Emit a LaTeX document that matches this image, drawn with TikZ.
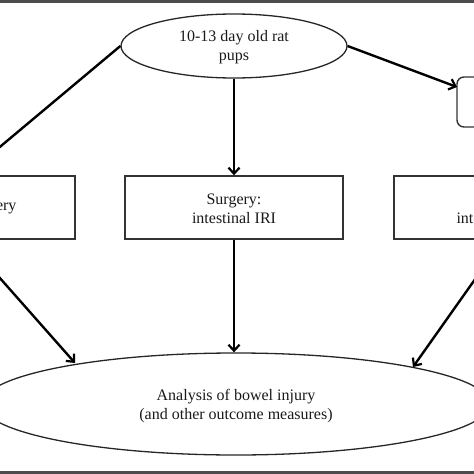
\documentclass[tikz,border=0pt]{standalone}
\usepackage{fontspec}
\setmainfont{Liberation Serif}
\usetikzlibrary{shapes.geometric,arrows.meta}
\begin{document}
\begin{tikzpicture}[x=1pt,y=-1pt,
  txt/.style={font=\fontsize{16}{19}\selectfont,align=center,text=black!90},
  box/.style={draw=black!80,line width=1.4pt,rectangle,minimum width=218pt,minimum height=63pt,inner sep=0pt},
  ell/.style={draw=black!85,line width=1.3pt,ellipse,inner sep=0pt},
  conn/.style={line width=2.4pt,black},
  arr/.style={conn,-{Straight Barb[length=6pt,width=11pt,line width=2.2pt]}}]
\useasboundingbox (0,0) rectangle (474,474);
\clip (0,0) rectangle (474,474);
% border bars
\fill[black!70] (0,0) rectangle (474,3);
\fill[black!70] (0,471) rectangle (474,474);
% nodes
\node[ell,minimum width=226pt,minimum height=64pt] (top) at (234,46) {};
\node[txt] (toptxt) at (234,47) {10-13 day old rat\\pups};
\node[box] (lb) at (-34,207.5) {};
\node[txt,anchor=east] (lbtxt) at (20,207) {Sham surgery};
\node[box] (cb) at (234,207.5) {};
\node[txt] (cbtxt) at (234,209) {Surgery:\\intestinal IRI};
\node[box] (rb) at (503,207.5) {};
\node[txt,anchor=west] (rbtxt) at (453,218) {intestinal IRI};
\node[draw=black!80,line width=1.4pt,rectangle,rounded corners=7pt,minimum width=60pt,minimum height=50pt] (sb) at (487,102) {};
\node[ell,minimum width=508pt,minimum height=102pt] (be) at (236,404) {};
\node[txt] (betxt) at (236,406) {Analysis of bowel injury\\(and other outcome measures)};
% connector end points
\coordinate (sbin) at (457,87);
\coordinate (beL) at (75,363);
\coordinate (beR) at (413,367);
% connectors
\draw[arr] (top.west) -- (lb.north);
\draw[arr] (top.east) -- (sbin);
\draw[arr] (top.south) -- (cb.north);
\draw[arr] (lb.south) -- (beL);
\draw[arr] (cb.south) -- (cb.south |- be.north);
\draw[arr] (rb.south) -- (beR);
\end{tikzpicture}
\end{document}
